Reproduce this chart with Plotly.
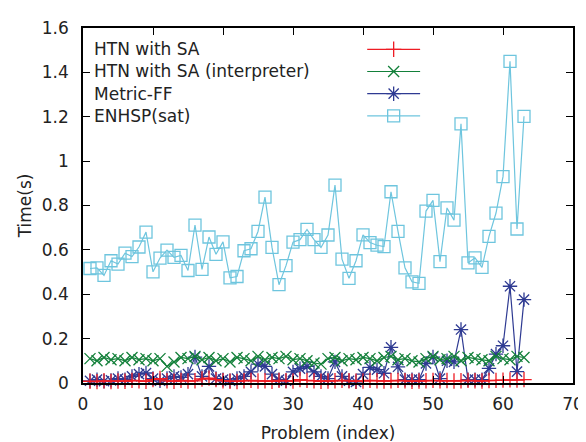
import plotly.graph_objects as go

# dados (tempo em segundos por problema)
problem = list(range(1, 64))

htn_sa = [0.008, 0.006, 0.010, 0.007, 0.009, 0.008, 0.012, 0.010, 0.008, 0.015,
          0.020, 0.010, 0.008, 0.012, 0.009, 0.010, 0.018, 0.022, 0.015, 0.010,
          0.008, 0.007, 0.010, 0.012, 0.009, 0.010, 0.008, 0.012, 0.010, 0.009,
          0.015, 0.012, 0.010, 0.008, 0.009, 0.010, 0.012, 0.010, 0.008, 0.009,
          0.012, 0.010, 0.009, 0.010, 0.012, 0.010, 0.008, 0.009, 0.010, 0.012,
          0.010, 0.011, 0.009, 0.010, 0.012, 0.010, 0.009, 0.011, 0.012, 0.013,
          0.014, 0.013, 0.015]

htn_sa_interp = [0.110, 0.100, 0.115, 0.105, 0.110, 0.100, 0.115, 0.105, 0.110, 0.100,
                 0.110, 0.075, 0.095, 0.115, 0.110, 0.120, 0.105, 0.115, 0.100, 0.110,
                 0.095, 0.115, 0.110, 0.100, 0.120, 0.105, 0.115, 0.110, 0.120, 0.105,
                 0.110, 0.100, 0.090, 0.085, 0.110, 0.115, 0.100, 0.110, 0.105, 0.115,
                 0.110, 0.100, 0.115, 0.120, 0.105, 0.110, 0.100, 0.095, 0.110, 0.120,
                 0.105, 0.110, 0.120, 0.100, 0.115, 0.110, 0.105, 0.100, 0.120, 0.110,
                 0.105, 0.120, 0.115]

metric_ff = [0.010, 0.015, 0.008, 0.012, 0.020, 0.015, 0.030, 0.040, 0.045, 0.020,
             0.010, 0.020, 0.030, 0.025, 0.040, 0.117, 0.030, 0.075, 0.020, 0.015,
             0.010, 0.020, 0.030, 0.050, 0.085, 0.075, 0.040, 0.015, 0.010, 0.050,
             0.065, 0.075, 0.050, 0.030, 0.020, 0.095, 0.030, 0.010, 0.005, 0.040,
             0.070, 0.060, 0.044, 0.161, 0.073, 0.015, 0.015, 0.015, 0.088, 0.117,
             0.020, 0.100, 0.095, 0.241, 0.015, 0.015, 0.015, 0.066, 0.130, 0.168,
             0.436, 0.051, 0.376]

enhsp = [0.516, 0.519, 0.485, 0.551, 0.536, 0.585, 0.570, 0.613, 0.680, 0.501,
         0.563, 0.599, 0.566, 0.575, 0.507, 0.712, 0.512, 0.658, 0.580, 0.636,
         0.474, 0.480, 0.596, 0.605, 0.683, 0.838, 0.611, 0.443, 0.529, 0.635,
         0.646, 0.692, 0.646, 0.611, 0.667, 0.892, 0.558, 0.472, 0.551, 0.668,
         0.633, 0.621, 0.615, 0.862, 0.683, 0.519, 0.456, 0.449, 0.775, 0.823,
         0.547, 0.789, 0.734, 1.168, 0.541, 0.564, 0.521, 0.661, 0.766, 0.930,
         1.450, 0.694, 1.202]

x_ticks = [0, 10, 20, 30, 40, 50, 60, 70]
y_ticks = [0, 0.2, 0.4, 0.6, 0.8, 1.0, 1.2, 1.4, 1.6]
y_tick_labels = ["0", "0.2", "0.4", "0.6", "0.8", "1", "1.2", "1.4", "1.6"]

series = [
    ("ENHSP(sat)", enhsp, "#6ec5de", "square-open", 12),
    ("Metric-FF", metric_ff, "#2e3a92", "asterisk-open", 12),
    ("HTN with SA (interpreter)", htn_sa_interp, "#13803a", "x-thin-open", 11),
    ("HTN with SA", htn_sa, "#ee1c24", "cross-thin-open", 11),
]
legend_order = ["HTN with SA", "HTN with SA (interpreter)", "Metric-FF", "ENHSP(sat)"]

FONT = "DejaVu Sans, Liberation Sans, sans-serif"
TXT = "#222222"

fig = go.Figure()
for name, vals, color, symbol, size in series:
    fig.add_trace(go.Scatter(
        x=problem, y=vals, mode="lines+markers", name=name,
        line=dict(color=color, width=1.2),
        marker=dict(symbol=symbol, size=size, color=color, line=dict(color=color, width=1.3)),
        showlegend=False, cliponaxis=False,
    ))

# legenda no estilo gnuplot: texto à esquerda, amostra à direita
style = {s[0]: s for s in series}
for k, name in enumerate(legend_order):
    _, _, color, symbol, size = style[name]
    yk = 0.94 - k * 0.0625
    fig.add_trace(go.Scatter(
        x=[0.58, 0.634, 0.688], y=[yk, yk, yk], xaxis="x2", yaxis="y2",
        mode="lines", line=dict(color=color, width=1.2), showlegend=False, hoverinfo="skip",
    ))
    fig.add_trace(go.Scatter(
        x=[0.634], y=[yk], xaxis="x2", yaxis="y2", mode="markers",
        marker=dict(symbol=symbol, size=size, color=color, line=dict(color=color, width=1.3)),
        showlegend=False, hoverinfo="skip",
    ))
    fig.add_annotation(x=0.018, y=yk, xref="x2", yref="y2", text=name, showarrow=False,
                       xanchor="left", yanchor="middle",
                       font=dict(family=FONT, size=17, color=TXT))

axis_common = dict(
    showline=True, linecolor="black", linewidth=1.5, mirror="ticks",
    ticks="inside", ticklen=7, tickwidth=1.2, tickcolor="black",
    showgrid=False, zeroline=False,
    tickfont=dict(family=FONT, size=17, color=TXT),
)

fig.update_layout(
    width=586, height=442,
    margin=dict(l=75, r=14, t=10, b=67),
    paper_bgcolor="white", plot_bgcolor="white",
    xaxis=dict(range=[0, 70], tickvals=x_ticks, ticklabelstandoff=5,
               title=dict(text="Problem (index)", font=dict(family=FONT, size=17, color=TXT), standoff=14),
               **axis_common),
    yaxis=dict(range=[0, 1.6], tickvals=y_ticks, ticktext=y_tick_labels, ticklabelstandoff=9,
               title=dict(text="Time(s)", font=dict(family=FONT, size=17, color=TXT), standoff=6),
               **axis_common),
    xaxis2=dict(range=[0, 1], overlaying="x", visible=False, fixedrange=True),
    yaxis2=dict(range=[0, 1], overlaying="y", visible=False, fixedrange=True),
)

fig.write_html("out.html")
